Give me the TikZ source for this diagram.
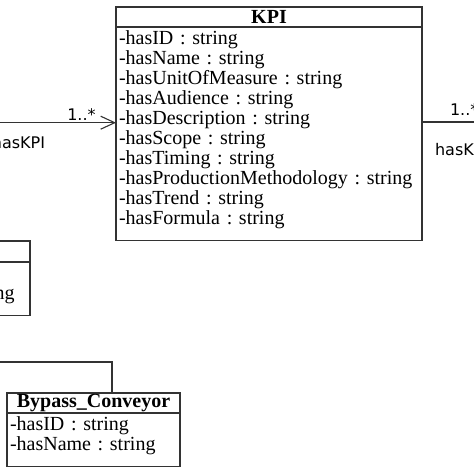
\documentclass[tikz,border=0pt]{standalone}
\usepackage{fontspec}
\setmainfont{Liberation Serif}
\newfontfamily\labelfont{DejaVu Sans}
\usetikzlibrary{arrows.meta, positioning, calc}
\frenchspacing

\begin{document}
\begin{tikzpicture}[
    x=1pt, y=-1pt,
    entity/.style={rectangle, draw=black!80, line width=1.1pt, fill=white, outer sep=0pt, minimum height=20pt, inner sep=0pt, font=\fontsize{20}{20}\selectfont\bfseries},
    attr/.style={rectangle, draw=black!80, line width=1.1pt, fill=white, outer sep=0pt, inner xsep=3pt, inner ysep=4pt, align=left, font=\fontsize{20}{20}\selectfont},
    rel/.style={-{Straight Barb[length=14pt, width=13pt]}, line width=1.1pt, draw=black!80},
    assoc/.style={line width=1.1pt, draw=black!80},
    mult/.style={font=\labelfont\fontsize{16}{16}\selectfont, inner sep=1.5pt}
]
\useasboundingbox (0,0) rectangle (474,474);
\clip (0,0) rectangle (474,474);

% KPI class
\node[entity, minimum width=306pt, anchor=north west] (kpi) at (116,7) {KPI};
\node[attr, text width=300pt, text depth=192pt, below=0pt of kpi] (kpi_attr) {
    -hasID : string\\
    -hasName : string\\
    -hasUnitOfMeasure : string\\
    -hasAudience : string\\
    -hasDescription : string\\
    -hasScope : string\\
    -hasTiming : string\\
    -hasProductionMethodology : string\\
    -hasTrend : string\\
    -hasFormula : string
};

% class cut off at the left edge
\node[entity, minimum width=164pt, minimum height=21pt, anchor=north east] (src) at (30,241) {};
\node[attr, text width=158pt, text depth=32pt, below=0pt of src] (src_attr) {
    -hasID : string\\
    -hasName : string
};

% Bypass_Conveyor class
\node[entity, minimum width=173pt, anchor=north west] (bypass) at (7,393) {Bypass\_Conveyor};
\node[attr, text width=167pt, text depth=32pt, below=0pt of bypass] (bypass_attr) {
    -hasID : string\\
    -hasName : string
};

% Relationships
\coordinate (kpi_src) at (-20,122.7);
\coordinate (kpi_dst) at (494,122);
\coordinate (bypass_src) at (-20,362);
\coordinate (bypass_bend) at (112,362);

\draw[rel] (kpi_src) -- (kpi_src -| kpi_attr.west)
    node[mult, pos=0.746, above=0pt] {1..*}
    node[mult, pos=0.283, below=11.5pt] {hasKPI};
\draw[assoc] (kpi_attr.east |- kpi_dst) -- (kpi_dst)
    node[mult, pos=0.361, anchor=south west, yshift=4.5pt] {1..*}
    node[mult, pos=0.153, anchor=north west, yshift=-19pt] {hasKPI};
\draw[assoc] (bypass_src) -- (bypass_bend) -- (bypass_bend |- bypass.north);

\end{tikzpicture}
\end{document}
